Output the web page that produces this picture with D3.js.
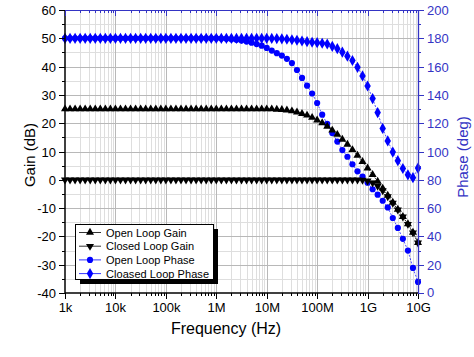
<!DOCTYPE html>
<html><head><meta charset="utf-8">
<script src="https://cdn.jsdelivr.net/npm/d3@7"></script>
<style>body{margin:0;background:#fff}svg{display:block;font-family:"Liberation Sans",Arial,sans-serif}</style>
</head><body><svg id="c" width="474" height="357"></svg>
<script>
// sweep: 10 points per decade, 1 kHz .. 10 GHz
const logFreq = d3.range(30, 101).map(d => d / 10);
const xTickLabels = ["1k","10k","100k","1M","10M","100M","1G","10G"];
const gainTicks = [-40,-30,-20,-10,0,10,20,30,40,50,60];
const phaseTicks = [0,20,40,60,80,100,120,140,160,180,200];
const seriesNames = ["Open Loop Gain","Closed Loop Gain","Open Loop Phase","Cloased Loop Phase"];

const openGain = [25,25,25,25,25,25,25,25,25,25, 25,25,25,25,25,25,25,25,25,25,
  25,25,25,25,25,25,25,25,25,25, 25,25,25,25,25,25,25,25,25,25, 25,
  25,24.9,24.8,24.6,24.3,23.9,23.4,22.8,22.0,21.1, 20.1,18.9,17.5,16.0,14.3,12.5,10.6,8.6,6.4,4.1,
  1.8,-0.6,-3.0,-5.5,-8.0,-10.5,-13.0,-15.6,-18.6,-22.2];
const closedGain = [0,0,0,0,0,0,0,0,0,0, 0,0,0,0,0,0,0,0,0,0,
  0,0,0,0,0,0,0,0,0,0, 0,0,0,0,0,0,0,0,0,0, 0,0,0,0,0,0,0,0,0,0,
  0,0,0,0,0,0,0,0,0,
  -0.1,-0.4,-1.1,-2.2,-3.8,-5.9,-8.2,-10.6,-13.1,-15.7,-18.7,-22.3];
const openPhase = [180,180,180,180,180,180,180,180,180,180, 180,180,180,180,180,180,180,180,180,180,
  180,180,180,180,180,180,180,180,180,180, 180,
  179.8,179.6,179.3,178.9,178.4,177.7,176.9,175.9,174.8,173.2,
  171.3,169.5,167.8,165.5,162.5,157.6,152,146.5,141,134.3,
  126,119.5,113,107,101,96.3,91,86,82.3,78,
  73.3,69.5,65.2,60.5,53,46,38.3,30,17.7,7.8];
const closedPhase = [180,180,180,180,180,180,180,180,180,180, 180,180,180,180,180,180,180,180,180,180,
  180,180,180,180,180,180,180,180,180,180, 180,180,180,180,180,180,180,180,180,180, 180,
  179.9,179.8,179.6,179.3,179,178.6,178.1,177.6,177.2,176.9,
  176.5,176,174.3,172.7,170.2,167.4,164.3,159.5,153.4,146.3,
  137.4,127.5,116.3,107.5,99.6,93.5,88,83.5,81.5,88.3];

const L = 65, R = 418, T = 10, B = 293;
const blue = "#0000ff", axisBlue = "#3434c4";
const svg = d3.select("#c");
const x = d3.scaleLog().domain([1e3, 1e10]).range([L, R]);
const yG = d3.scaleLinear().domain([-40, 60]).range([B, T]);
const yP = d3.scaleLinear().domain([0, 200]).range([B, T]);
const r = v => Math.round(v) + 0.5;

// grid
const g = svg.append("g");
const minorX = [], majorX = [];
for (let e = 3; e < 10; e++) { majorX.push(Math.pow(10, e)); for (let m = 2; m <= 9; m++) minorX.push(m * Math.pow(10, e)); }
minorX.forEach(f => g.append("line").attr("x1", r(x(f))).attr("x2", r(x(f))).attr("y1", T).attr("y2", B).attr("stroke", "#dedede"));
d3.range(-35, 60, 10).forEach(v => g.append("line").attr("x1", L).attr("x2", R).attr("y1", r(yG(v))).attr("y2", r(yG(v))).attr("stroke", "#dedede"));
majorX.slice(1).forEach(f => g.append("line").attr("x1", r(x(f))).attr("x2", r(x(f))).attr("y1", T).attr("y2", B).attr("stroke", "#b8b8b8"));
gainTicks.slice(1, -1).forEach(v => g.append("line").attr("x1", L).attr("x2", R).attr("y1", r(yG(v))).attr("y2", r(yG(v))).attr("stroke", "#b8b8b8"));

// series
const sym = (type, size) => d3.symbol().type(type).size(size)();
function drawSeries(vals, yScale, color, type, size, rot) {
  const pts = logFreq.map((lf, i) => [x(Math.pow(10, lf)), yScale(vals[i])]);
  svg.append("path").attr("d", d3.line()(pts)).attr("fill", "none").attr("stroke", color).attr("stroke-width", 0.7).attr("stroke-dasharray", "2,1.5");
  svg.append("g").selectAll("path").data(pts).join("path")
    .attr("d", sym(type, size))
    .attr("transform", d => `translate(${d[0]},${d[1]}) rotate(${rot})`)
    .attr("fill", color);
}
drawSeries(openPhase, yP, blue, d3.symbolCircle, 30, 0);
drawSeries(closedPhase, yP, blue, d3.symbolDiamond, 36, 0);
drawSeries(openGain, yG, "#000", d3.symbolTriangle, 28, 0);
drawSeries(closedGain, yG, "#000", d3.symbolTriangle, 28, 180);

// frame / axes
const ax = svg.append("g");
ax.append("line").attr("x1", L).attr("x2", R).attr("y1", T + 0.5).attr("y2", T + 0.5).attr("stroke", axisBlue);
ax.append("line").attr("x1", R + 0.5).attr("x2", R + 0.5).attr("y1", T).attr("y2", B).attr("stroke", axisBlue).attr("stroke-width", 1.3);
ax.append("line").attr("x1", L).attr("x2", L).attr("y1", T).attr("y2", B + 1).attr("stroke", "#000").attr("stroke-width", 1.5);
ax.append("line").attr("x1", L).attr("x2", R).attr("y1", B).attr("y2", B).attr("stroke", "#000").attr("stroke-width", 1.5);

// x ticks bottom (outward) and top (inward)
majorX.concat([1e10]).forEach((f, i) => {
  const xx = r(x(f));
  ax.append("line").attr("x1", xx).attr("x2", xx).attr("y1", B).attr("y2", B + 6).attr("stroke", "#000");
  ax.append("line").attr("x1", xx).attr("x2", xx).attr("y1", T).attr("y2", T + 6).attr("stroke", axisBlue);
  ax.append("text").attr("x", xx).attr("y", B + 19).attr("text-anchor", "middle").attr("font-size", 13).attr("fill", "#000").text(xTickLabels[i]);
});
minorX.forEach(f => {
  const xx = r(x(f));
  ax.append("line").attr("x1", xx).attr("x2", xx).attr("y1", B).attr("y2", B + 3).attr("stroke", "#000");
  ax.append("line").attr("x1", xx).attr("x2", xx).attr("y1", T).attr("y2", T + 3).attr("stroke", axisBlue);
});

// left axis
gainTicks.forEach(v => {
  const yy = r(yG(v));
  ax.append("line").attr("x1", L - 6).attr("x2", L).attr("y1", yy).attr("y2", yy).attr("stroke", "#000");
  ax.append("text").attr("x", L - 9).attr("y", yy + 4.5).attr("text-anchor", "end").attr("font-size", 13).attr("fill", "#000").text(v);
});
d3.range(-35, 60, 10).forEach(v => ax.append("line").attr("x1", L - 3).attr("x2", L).attr("y1", r(yG(v))).attr("y2", r(yG(v))).attr("stroke", "#000"));

// right axis
phaseTicks.forEach(v => {
  const yy = r(yP(v));
  ax.append("line").attr("x1", R).attr("x2", R + 6).attr("y1", yy).attr("y2", yy).attr("stroke", axisBlue);
  ax.append("text").attr("x", R + 9).attr("y", yy + (v === 0 ? 3.5 : 4.5)).attr("text-anchor", "start").attr("font-size", 13).attr("fill", axisBlue).text(v);
});
d3.range(10, 200, 20).forEach(v => ax.append("line").attr("x1", R).attr("x2", R + 3).attr("y1", r(yP(v))).attr("y2", r(yP(v))).attr("stroke", axisBlue));

// axis titles
svg.append("text").attr("transform", "translate(35,155) rotate(-90)").attr("text-anchor", "middle").attr("font-size", 15).text("Gain (dB)");
svg.append("text").attr("transform", "translate(468,157) rotate(-90)").attr("text-anchor", "middle").attr("font-size", 15).attr("fill", axisBlue).text("Phase (deg)");
svg.append("text").attr("x", 226).attr("y", 334).attr("text-anchor", "middle").attr("font-size", 16).text("Frequency (Hz)");

// legend
const lg = svg.append("g");
const lx = 75, ly = 224, lw = 138, lh = 55;
lg.append("rect").attr("x", lx + 5).attr("y", ly + 5).attr("width", lw).attr("height", lh).attr("fill", "#000");
lg.append("rect").attr("x", lx + 0.5).attr("y", ly + 0.5).attr("width", lw).attr("height", lh).attr("fill", "#fff").attr("stroke", "#000");
const legendDefs = [
  {c: "#000", t: d3.symbolTriangle, s: 28, rot: 0},
  {c: "#000", t: d3.symbolTriangle, s: 28, rot: 180},
  {c: blue, t: d3.symbolCircle, s: 30, rot: 0},
  {c: blue, t: d3.symbolDiamond, s: 36, rot: 0}
];
seriesNames.forEach((name, i) => {
  const yy = ly + 8.5 + i * 13.7;
  const d = legendDefs[i];
  lg.append("line").attr("x1", lx + 4).attr("x2", lx + 26).attr("y1", yy).attr("y2", yy).attr("stroke", d.c).attr("stroke-width", 0.8);
  lg.append("path").attr("d", sym(d.t, d.s)).attr("transform", `translate(${lx + 15},${yy}) rotate(${d.rot})`).attr("fill", d.c);
  lg.append("text").attr("x", lx + 31).attr("y", yy + 4).attr("font-size", 11).attr("textLength", name.length > 16 ? 103 : null).attr("fill", "#000").text(name);
});
</script></body></html>
